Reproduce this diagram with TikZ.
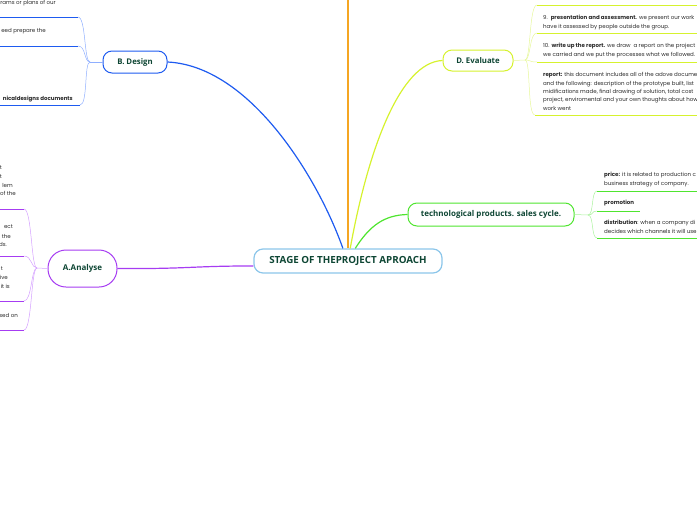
\documentclass[tikz,border=0pt]{standalone}
\usepackage{fontspec}
\setmainfont{Poppins}
\newfontfamily\topicfont{Open Sans}
\usepackage{tikz}

\definecolor{centreblue}{HTML}{8CC6EA}
\definecolor{designblue}{HTML}{1E5BF0}
\definecolor{designlight}{HTML}{8FAFFF}
\definecolor{analysepurple}{HTML}{A63CF2}
\definecolor{analyselight}{HTML}{D4A0FF}
\definecolor{evalyellow}{HTML}{D6F22E}
\definecolor{evallight}{HTML}{E6F79A}
\definecolor{techgreen}{HTML}{4FE52F}
\definecolor{techlight}{HTML}{A9F29C}
\definecolor{orangeline}{HTML}{F5A623}
\definecolor{topictext}{HTML}{0E4634}
\definecolor{notetext}{HTML}{2A2A2A}

\begin{document}
\begin{tikzpicture}[x=1pt,y=-1pt,
    topic/.style={draw,line width=1pt,rounded corners=9pt,fill=white,inner sep=0pt,
      text=topictext,font=\topicfont\bfseries\fontsize{7.8}{9}\selectfont},
    note/.style={inner sep=0pt,anchor=north west,align=left,text=notetext,
      font=\fontsize{5.5}{8.4}\selectfont},
    cut/.style={inner sep=0pt,anchor=east,text=notetext,font=\fontsize{5.5}{6.5}\selectfont},
    twig/.style={line width=0.5pt},
    rule/.style={line width=1pt},
    limb/.style={line width=1.2pt}]

    \clip (0,0) rectangle (697,520);

    % topics
    \node[topic,draw=centreblue,line width=1.2pt,minimum width=188pt,minimum height=24pt,
      font=\topicfont\bfseries\fontsize{9.8}{11}\selectfont] (stage) at (348,261) {STAGE OF THEPROJECT APROACH};
    \node[topic,draw=designblue,minimum width=64pt,minimum height=22pt] (design) at (135,62) {B. Design};
    \node[topic,draw=analysepurple,minimum width=69pt,minimum height=37pt,rounded corners=18pt,
      font=\topicfont\bfseries\fontsize{8}{9}\selectfont] (analyse) at (82.5,268.5) {A.Analyse};
    \node[topic,draw=evalyellow,minimum width=70pt,minimum height=21pt] (evaluate) at (478,60.5) {D. Evaluate};
    \node[topic,draw=techgreen,minimum width=166pt,minimum height=23pt,
      font=\topicfont\bfseries\fontsize{8}{9}\selectfont] (tech) at (491,214.5) {technological products. sales cycle.};

    % main connectors
    \coordinate (otop) at (348,0);
    \draw[limb,orangeline] (otop) -- (stage.north);
    \draw[limb,designblue] (design.east) .. controls (250,66) and (318,178) .. (stage.112);
    \draw[limb,analysepurple] (analyse.east) .. controls (190,269) and (190,266) .. (stage.183);
    \draw[limb,evalyellow] (stage.80) .. controls (368,150) and (400,62) .. (evaluate.west);
    \draw[limb,techgreen] (stage.60) .. controls (370,225) and (385,215) .. (tech.west);

    % B. Design branches
    \coordinate (dj) at (90,62);
    \draw[twig,designlight] (design.west) -- (dj);
    \foreach \e/\y/\x in {d1/17/78, d2/46/78, d3/105/80}{
        \coordinate (\e) at (\x,\y);
        \coordinate (\e l) at (-5,\y);
        \draw[twig,designlight] (dj) .. controls +(-6,0) and +(8,0) .. (\e);
        \draw[rule,designblue] (\e) -- (\e l);
    }
    \node[cut] (dt1) at (56,3) {rams or plans of our};
    \node[cut] (dt2) at (46,31) {eed prepare the};
    \node[cut] (dt3) at (73,99) {\textbf{nicaldesigns documents}};

    % A.Analyse branches
    \coordinate (aj) at (37,268);
    \draw[twig,analyselight] (analyse.west) -- (aj);
    \foreach \e/\y in {a1/209, a2/256, a3/301, a4/330}{
        \coordinate (\e) at (24,\y);
        \coordinate (\e l) at (-5,\y);
        \draw[twig,analyselight] (aj) .. controls +(-6,0) and +(8,0) .. (\e);
        \draw[rule,analysepurple] (\e) -- (\e l);
    }
    \foreach \x/\y/\t [count=\i] in {2/168/t, 2/177/t, 13/185/lem, 16/193/of the,
        13/227/ect, 11/236/the, 7/244/ds., 3/269/t, 8/277/ive, 10/286/it is, 18/315/sed on}
        \node[cut] (at\i) at (\x,\y) {\t};

    % D. Evaluate branches
    \coordinate (ej) at (525,60);
    \draw[twig,evallight] (evaluate.east) -- (ej);
    \foreach \e/\y/\x in {e1/5/537, e2/33/537, e3/62/537, e4/115/535}{
        \coordinate (\e) at (\x,\y);
        \coordinate (\e r) at (702,\y);
        \draw[twig,evallight] (ej) .. controls +(6,0) and +(-8,0) .. (\e);
        \draw[rule,evalyellow] (\e) -- (\e r);
    }
    \node[note] (presentation) at (543,15.2) {9.\ \ \textbf{presentation and assessment.} we present our work\\have it assessed by people outside the group.};
    \node[note] (writeup) at (543,43.2) {10. \textbf{write up the report.} we draw\ \ a report on the project\\we carried and we put the processes what we followed.};
    \node[note] (report) at (543,72.2) {\textbf{report:} this document includes all of the adove document\\and the following: description of the prototype built, list\\midifications made, final drawing of solution, total cost\\project, enviromental and your own thoughts about how\\work went};

    % sales cycle branches
    \coordinate (tj) at (588,215);
    \draw[twig,techlight] (tech.east) -- (tj);
    \foreach \e/\y/\x in {t1/191/702, t2/211/640, t3/238/702}{
        \coordinate (\e) at (597,\y);
        \coordinate (\e r) at (\x,\y);
        \draw[twig,techlight] (tj) .. controls +(6,0) and +(-6,0) .. (\e);
        \draw[rule,techgreen] (\e) -- (\e r);
    }
    \node[note] (price) at (604,172.2) {\textbf{price:} it is related to production c\\business strategy of company.};
    \node[note] (promotion) at (604,200.2) {\textbf{promotion}};
    \node[note] (distribution) at (604,220.2) {\textbf{distribution}: when a company di\\decides which channels it will use};
\end{tikzpicture}
\end{document}
